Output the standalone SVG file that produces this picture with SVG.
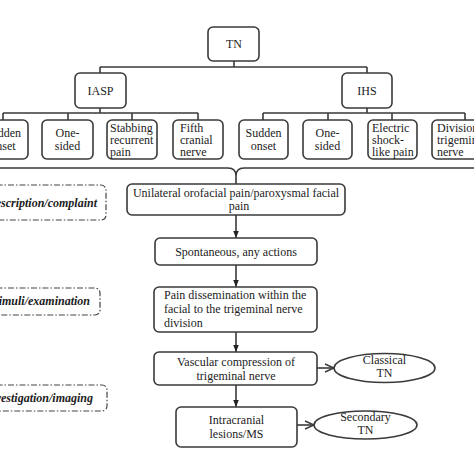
<svg xmlns="http://www.w3.org/2000/svg" width="474" height="474" viewBox="0 0 474 474">
<defs>
<style>
.box{fill:#fff;stroke:#3a3a3a;stroke-width:1.6}
.dd{fill:none;stroke:#444;stroke-width:1.2;stroke-dasharray:6 2 1.5 2}
.ln{fill:none;stroke:#3a3a3a;stroke-width:1.6}
text{font-family:"Liberation Serif","DejaVu Serif",serif;font-size:12px;fill:#1c1c1c}
.c{text-anchor:middle}
.lab{font-weight:bold;font-style:italic;text-anchor:end}
</style>
<marker id="tri" viewBox="0 0 10 10" refX="10" refY="5" markerWidth="7" markerHeight="7" orient="auto" markerUnits="userSpaceOnUse"><path d="M0,1 L10,5 L0,9 z" fill="#222"/></marker>
<marker id="chev" viewBox="0 0 10 10" refX="10" refY="5" markerWidth="10" markerHeight="10" orient="auto" markerUnits="userSpaceOnUse"><path d="M1,1 L10,5 L1,9" fill="none" stroke="#3a3a3a" stroke-width="1.5"/></marker>
</defs>
<rect width="474" height="474" fill="#fff"/>
<g id="connectors">
<path class="ln" d="M234,61 V67 M100,67 H367 M100,67 V73 M367,67 V73"/>
<path class="ln" d="M100,108 V113 M3,113 H198 M3,113 V120 M68,113 V120 M132,113 V120 M198,113 V120"/>
<path class="ln" d="M367,108 V113 M263,113 H465 M263,113 V120 M328,113 V120 M392,113 V120 M465,113 V120"/>
<path class="ln" d="M-5,168 H228 Q236,168 236,176 Q236,168 244,168 H480 M236,176 V184"/>
<line class="ln" x1="236" y1="215" x2="236" y2="238" marker-end="url(#tri)"/>
<line class="ln" x1="236" y1="265" x2="236" y2="287" marker-end="url(#tri)"/>
<line class="ln" x1="236" y1="332" x2="236" y2="352" marker-end="url(#tri)"/>
<line class="ln" x1="236" y1="385" x2="236" y2="407" marker-end="url(#tri)"/>
<line class="ln" x1="317" y1="368" x2="334" y2="368" marker-end="url(#chev)"/>
<line class="ln" x1="297" y1="425" x2="314" y2="425" marker-end="url(#chev)"/>
</g>
<g id="tn"><rect class="box" x="208" y="27" width="51" height="34" rx="5"/><text class="c" x="234" y="48">TN</text></g>
<g id="iasp"><rect class="box" x="75" y="73" width="51" height="35" rx="5"/><text class="c" x="100.5" y="95">IASP</text></g>
<g id="ihs"><rect class="box" x="342" y="73" width="50" height="35" rx="5"/><text class="c" x="367" y="95">IHS</text></g>
<g id="iasp-sudden"><rect class="box" x="-22" y="120" width="50" height="39" rx="5"/><text class="c" x="3" y="137">Sudden</text><text class="c" x="3" y="150">onset</text></g>
<g id="iasp-onesided"><rect class="box" x="42" y="120" width="51" height="39" rx="5"/><text class="c" x="67.5" y="137">One-</text><text class="c" x="67.5" y="150">sided</text></g>
<g id="iasp-stabbing"><rect class="box" x="107" y="120" width="50" height="39" rx="5"/><text x="110" y="131.5">Stabbing</text><text x="110" y="143.5">recurrent</text><text x="110" y="155.5">pain</text></g>
<g id="iasp-fifth"><rect class="box" x="173" y="120" width="50" height="39" rx="5"/><text x="180" y="131.5">Fifth</text><text x="180" y="143.5">cranial</text><text x="180" y="155.5">nerve</text></g>
<g id="ihs-sudden"><rect class="box" x="239" y="120" width="49" height="39" rx="5"/><text class="c" x="263.5" y="137">Sudden</text><text class="c" x="263.5" y="150">onset</text></g>
<g id="ihs-onesided"><rect class="box" x="303" y="120" width="49" height="39" rx="5"/><text class="c" x="327.5" y="137">One-</text><text class="c" x="327.5" y="150">sided</text></g>
<g id="ihs-electric"><rect class="box" x="368" y="120" width="49" height="39" rx="5"/><text x="372" y="131.5">Electric</text><text x="372" y="143.5">shock-</text><text x="372" y="155.5">like pain</text></g>
<g id="ihs-division"><rect class="box" x="432" y="120" width="70" height="39" rx="5"/><text x="437" y="131.5">Division</text><text x="437" y="143.5">trigeminal</text><text x="437" y="155.5">nerve</text></g>
<g id="lab-desc"><rect class="dd" x="-20" y="185" width="126" height="35" rx="5"/><text class="lab" x="97" y="207">Description/complaint</text></g>
<g id="lab-stim"><rect class="dd" x="-20" y="288" width="120" height="27" rx="5"/><text class="lab" x="90" y="305">Stimuli/examination</text></g>
<g id="lab-inv"><rect class="dd" x="-20" y="385" width="127" height="26" rx="5"/><text class="lab" x="93" y="402">Investigation/imaging</text></g>
<g id="unilateral"><rect class="box" x="127" y="184" width="218" height="31" rx="5"/><text class="c" x="236" y="197">Unilateral orofacial pain/paroxysmal facial</text><text class="c" x="239" y="209.5">pain</text></g>
<g id="spont"><rect class="box" x="155" y="238" width="162" height="27" rx="5"/><text class="c" x="236" y="255.5">Spontaneous, any actions</text></g>
<g id="dissem"><rect class="box" x="154" y="287" width="163" height="45" rx="5"/><text x="164" y="299">Pain dissemination within the</text><text x="164" y="313">facial to the trigeminal nerve</text><text x="164" y="326.5">division</text></g>
<g id="vascular"><rect class="box" x="154" y="352" width="163" height="33" rx="5"/><text class="c" x="236" y="366">Vascular compression of</text><text class="c" x="236" y="380">trigeminal nerve</text></g>
<g id="intra"><rect class="box" x="176" y="407" width="121" height="40" rx="5"/><text class="c" x="236.5" y="424">Intracranial</text><text class="c" x="236.5" y="438">lesions/MS</text></g>
<g id="classical"><ellipse class="box" cx="384.5" cy="368" rx="50.5" ry="14.5"/><text class="c" x="384.5" y="364">Classical</text><text class="c" x="384.5" y="377">TN</text></g>
<g id="secondary"><ellipse class="box" cx="365.5" cy="425" rx="51.5" ry="14"/><text class="c" x="365.5" y="421">Secondary</text><text class="c" x="365.5" y="434">TN</text></g>
</svg>
